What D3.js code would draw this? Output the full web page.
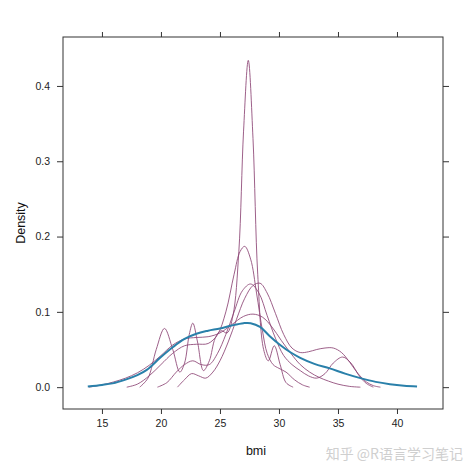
<!DOCTYPE html>
<html>
<head>
<meta charset="utf-8">
<script src="https://cdn.jsdelivr.net/npm/d3@7"></script>
<style>
  html, body { margin: 0; padding: 0; background: #fff; }
  svg { display: block; font-family: "Liberation Sans", Arial, sans-serif; }
</style>
</head>
<body>
<svg id="chart" width="474" height="474"></svg>
<script>
// tick values
const xTicks = [15, 20, 25, 30, 35, 40];
const yTicks = [0.0, 0.1, 0.2, 0.3, 0.4];

const observed = [
  [13.8, 0.001], [15.0, 0.003], [15.9, 0.005], [17.0, 0.010], [18.0, 0.016],
  [18.8, 0.023], [20.0, 0.040], [21.0, 0.053], [22.0, 0.064], [23.0, 0.071],
  [24.0, 0.075], [25.0, 0.078], [26.0, 0.082], [27.0, 0.085], [27.6, 0.085],
  [28.4, 0.080], [29.2, 0.068], [30.1, 0.056], [31.0, 0.046], [31.8, 0.039],
  [33.0, 0.031], [34.3, 0.025], [35.6, 0.018], [36.9, 0.012], [38.2, 0.007],
  [39.4, 0.004], [40.6, 0.002], [41.7, 0.001]
];

// imputed bmi densities (5 imputations)
const imp1 = [
  [18.2, 0.000], [18.9, 0.012], [19.6, 0.050], [20.3, 0.078], [21.0, 0.050],
  [21.6, 0.020], [22.0, 0.032], [22.4, 0.070], [22.7, 0.085], [23.1, 0.060],
  [23.6, 0.022], [24.1, 0.035], [24.6, 0.065], [25.1, 0.075], [25.6, 0.072],
  [26.1, 0.095], [26.6, 0.180], [27.0, 0.340], [27.4, 0.434], [27.8, 0.330],
  [28.2, 0.150], [28.7, 0.050], [29.1, 0.035], [29.6, 0.055], [30.1, 0.030],
  [30.6, 0.006], [31.2, 0.000]
];
const imp2 = [
  [17.1, 0.000], [18.0, 0.004], [19.0, 0.015], [20.0, 0.030], [21.0, 0.045],
  [22.0, 0.055], [23.0, 0.057], [24.0, 0.058], [24.8, 0.070], [25.5, 0.100],
  [26.2, 0.150], [26.7, 0.180], [27.1, 0.187], [27.6, 0.170], [28.1, 0.125],
  [28.6, 0.075], [29.0, 0.045], [29.5, 0.030], [30.0, 0.025], [30.6, 0.020],
  [31.3, 0.010], [32.0, 0.003], [32.6, 0.000]
];
const imp3 = [
  [19.7, 0.000], [20.5, 0.006], [21.3, 0.020], [22.0, 0.030], [22.7, 0.035],
  [23.4, 0.030], [24.1, 0.030], [24.8, 0.045], [25.5, 0.070], [26.2, 0.100],
  [26.9, 0.128], [27.6, 0.137], [28.3, 0.125], [29.0, 0.095], [29.7, 0.065],
  [30.4, 0.042], [31.1, 0.030], [31.8, 0.022], [32.5, 0.015], [33.2, 0.012],
  [33.9, 0.018], [34.6, 0.032], [35.4, 0.040], [36.1, 0.032], [36.8, 0.015],
  [37.4, 0.005], [38.0, 0.000]
];
const imp4 = [
  [21.4, 0.000], [22.0, 0.010], [22.6, 0.018], [23.2, 0.015], [23.8, 0.012],
  [24.4, 0.020], [25.0, 0.035], [25.7, 0.060], [26.4, 0.090], [27.1, 0.118],
  [27.8, 0.135], [28.4, 0.138], [29.0, 0.125], [29.7, 0.098], [30.4, 0.070],
  [31.1, 0.052], [31.8, 0.046], [32.5, 0.047], [33.2, 0.050], [33.9, 0.052],
  [34.6, 0.052], [35.3, 0.046], [36.0, 0.033], [36.7, 0.018], [37.4, 0.007],
  [38.0, 0.002], [38.6, 0.000]
];
const imp5 = [
  [13.9, 0.000], [15.0, 0.003], [16.0, 0.007], [17.0, 0.012], [18.0, 0.019],
  [19.0, 0.029], [20.0, 0.042], [21.0, 0.056], [22.0, 0.064], [23.0, 0.066],
  [24.0, 0.067], [25.0, 0.072], [26.0, 0.083], [27.0, 0.094], [27.8, 0.097],
  [28.6, 0.093], [29.4, 0.080], [30.2, 0.062], [31.0, 0.045], [31.8, 0.030],
  [32.6, 0.020], [33.4, 0.013], [34.2, 0.008], [35.0, 0.004], [36.0, 0.001],
  [36.9, 0.000]
];
const imputed = [imp1, imp2, imp3, imp4, imp5];

const svg = d3.select('#chart');
const box = { left: 63, top: 37, right: 443, bottom: 409 };

const x = d3.scaleLinear().domain([11.7, 43.9]).range([box.left, box.right]);
const y = d3.scaleLinear().domain([-0.029, 0.465]).range([box.bottom, box.top]);

const line = d3.line()
    .x(d => x(d[0]))
    .y(d => y(d[1]))
    .curve(d3.curveCatmullRom.alpha(0.5));

// curves, clipped to the panel
svg.append('clipPath').attr('id', 'panel')
  .append('rect')
    .attr('x', box.left).attr('y', box.top)
    .attr('width', box.right - box.left).attr('height', box.bottom - box.top);

const curves = svg.append('g').attr('clip-path', 'url(#panel)');

curves.selectAll('path.imp')
  .data(imputed)
  .enter().append('path')
    .attr('class', 'imp')
    .attr('d', line)
    .attr('fill', 'none')
    .attr('stroke', '#8c4474')
    .attr('stroke-opacity', 0.85)
    .attr('stroke-width', 1);

curves.append('path')
    .datum(observed)
    .attr('d', line)
    .attr('fill', 'none')
    .attr('stroke', '#2a80aa')
    .attr('stroke-width', 2);

// axes (lattice style: ticks on all four sides, labels left and bottom)
const tickStyle = g => {
  g.select('.domain').remove();
  g.selectAll('.tick line').attr('stroke', '#333');
  g.selectAll('.tick text').attr('fill', '#222').style('font-size', '10.5px');
};

svg.append('g')
    .attr('transform', `translate(0,${box.bottom})`)
    .call(d3.axisBottom(x).tickValues(xTicks).tickSize(5).tickPadding(6))
    .call(tickStyle);

svg.append('g')
    .attr('transform', `translate(0,${box.top})`)
    .call(d3.axisTop(x).tickValues(xTicks).tickSize(5).tickFormat(''))
    .call(tickStyle);

svg.append('g')
    .attr('transform', `translate(${box.left},0)`)
    .call(d3.axisLeft(y).tickValues(yTicks).tickSize(6).tickPadding(7).tickFormat(d3.format('.1f')))
    .call(tickStyle);

svg.append('g')
    .attr('transform', `translate(${box.right},0)`)
    .call(d3.axisRight(y).tickValues(yTicks).tickSize(6).tickFormat(''))
    .call(tickStyle);

svg.append('rect')
    .attr('x', box.left).attr('y', box.top)
    .attr('width', box.right - box.left).attr('height', box.bottom - box.top)
    .attr('fill', 'none')
    .attr('stroke', '#333')
    .attr('stroke-width', 1);

// axis titles
svg.append('text')
    .attr('x', (box.left + box.right) / 2 + 3)
    .attr('y', 455)
    .attr('text-anchor', 'middle')
    .style('font-size', '12.5px')
    .attr('fill', '#111')
    .text('bmi');

svg.append('text')
    .attr('transform', `translate(25,${(box.top + box.bottom) / 2}) rotate(-90)`)
    .attr('text-anchor', 'middle')
    .style('font-size', '12.5px')
    .attr('fill', '#111')
    .text('Density');

// watermark
svg.append('text')
    .attr('x', 463)
    .attr('y', 459)
    .attr('text-anchor', 'end')
    .style('font-family', '"Noto Sans CJK SC", sans-serif')
    .style('font-size', '14px')
    .attr('fill', '#cfcfcf')
    .text('知乎 @R语言学习笔记');
</script>
</body>
</html>
